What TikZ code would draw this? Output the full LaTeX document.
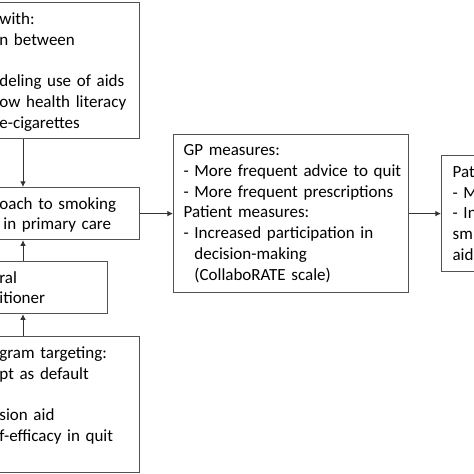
\documentclass[tikz,border=0pt]{standalone}
\usepackage{fontspec}
\setmainfont{Carlito}
\usetikzlibrary{positioning, arrows.meta}

\begin{document}
\begin{tikzpicture}[
                x=1pt, y=-1pt,
                every node/.style={font=\fontsize{17}{20.8}\selectfont, text=black},
                align=left,
                >={Latex[width=2mm,length=2mm]},
                box/.style={rectangle, draw=black!68, line width=1.2pt, inner xsep=6pt, inner ysep=0pt},
                line/.style={draw=black!80, line width=0.9pt, ->},
                ]

                % Frame of the cropped figure
                \useasboundingbox (0,0) rectangle (474,474);
                \clip (0,0) rectangle (474,474);

                % Left column, cut off at the left edge
                \node [box, anchor=north east, text width=134pt, minimum height=136pt] (barriers) at (140,2) {\strut with:\\ n between\\ \mbox{}\\ deling use of aids\\ ow health literacy\\ e-cigarettes};
                \node [box, anchor=north east, text width=134pt, minimum height=52pt] (approach) at (140,187) {\strut oach to smoking\\ \hspace{4pt}in primary care};
                \node [box, anchor=north east, text width=102pt, minimum height=52pt] (practitioner) at (108,261) {ral\\ itioner};
                \node [box, anchor=north east, text width=134pt, minimum height=136pt] (program) at (140,336) {gram targeting:\\ pt as default\\ \mbox{}\\ sion aid\\ f-efficacy in quit\\ \mbox{}};

                % Measures and outcomes
                \node [box, anchor=north west, inner xsep=10pt, text width=215pt, minimum height=158pt] (measures) at (173,134) {GP measures:\\ \mbox{- More frequent advice to quit}\\ - More frequent prescriptions\\ Patient measures:\\ - Increased participation in\\ \phantom{- }decision-making\\ \phantom{- }(CollaboRATE scale)};
                \node [box, anchor=north west, inner xsep=11pt, text width=100pt, minimum height=116pt] (outcomes) at (441,155) {Pat\\ - M\\ - In\\ sm\\ aid};

                % Arrows
                \coordinate (spine) at (23,0);
                \draw[line] (barriers.south -| spine) -- (approach.north -| spine);
                \draw[line] (practitioner.north -| spine) -- (approach.south -| spine);
                \draw[line] (program.north -| spine) -- (practitioner.south -| spine);
                \draw[line] (approach.east) -- (measures.west);
                \draw[line] (measures.east) -- (outcomes.west);

\end{tikzpicture}
\end{document}
